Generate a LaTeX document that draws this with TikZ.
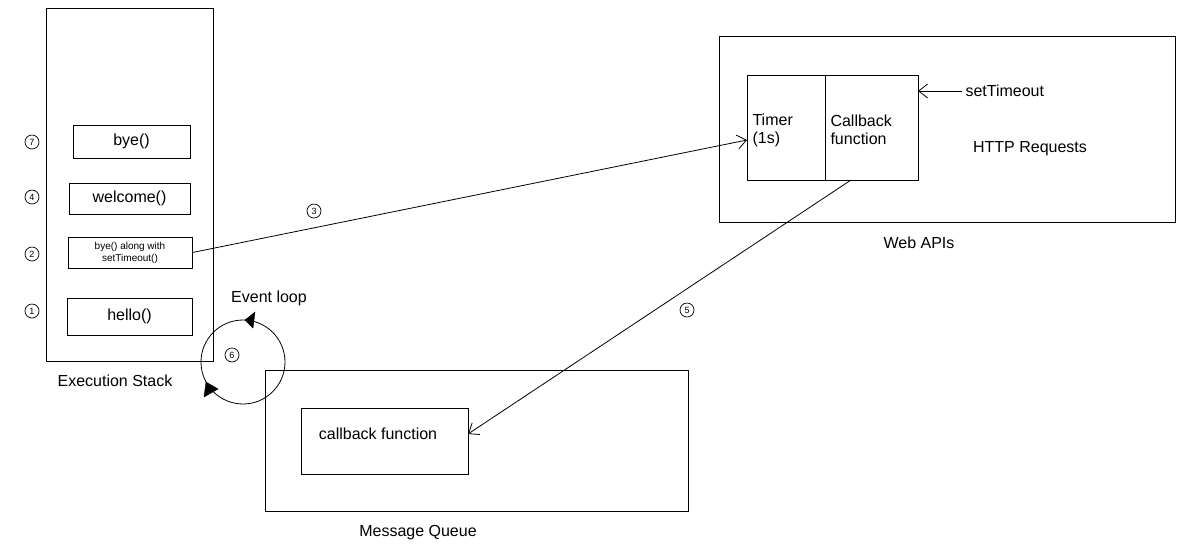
\documentclass[tikz,border=0pt]{standalone}
\usepackage{fontspec}
\setmainfont{Liberation Sans}
\usetikzlibrary{arrows.meta}
\begin{document}
\begin{tikzpicture}[x=1pt,y=-1pt,
  box/.style={draw,line width=0.9pt},
  num/.style={circle,draw,line width=0.7pt,inner sep=0pt,minimum size=14pt,font=\fontsize{9}{10}\selectfont},
  lbl/.style={font=\fontsize{16}{18}\selectfont},
  conn/.style={line width=0.8pt,-{Straight Barb[length=9pt,width=14pt]}}]
\useasboundingbox (0,0) rectangle (1200,558);
% execution stack
\draw[box] (46,8) rectangle (213,361);
\node[box,minimum width=117pt,minimum height=33pt,lbl] (bye) at (131.5,141.5) {bye()};
\node[box,minimum width=121pt,minimum height=31pt,lbl] (wel) at (129.5,198.5) {welcome()};
\node[box,minimum width=124pt,minimum height=31pt,align=center,font=\fontsize{10}{12}\selectfont,inner sep=0pt] (bs) at (130,252.5) {bye() along with\\setTimeout()};
\node[box,minimum width=125pt,minimum height=37pt,lbl] (hello) at (129.5,316.5) {hello()};
\node[num] (n7) at (32,142) {7};
\node[num] (n4) at (32,197) {4};
\node[num] (n2) at (32,254) {2};
\node[num] (n1) at (32,311) {1};
\node[lbl] (es) at (115,381) {Execution Stack};
% web apis
\draw[box] (719,36) rectangle (1175,222);
\draw[box] (747,75) rectangle (918,180);
\draw[box] (825,75) -- (825,180);
\coordinate (timerin) at (747,140);
\coordinate (cbout) at (851,180);
\coordinate (cbin) at (918,91);
\node[lbl,anchor=west,align=left] (timer) at (749,130) {Timer\\(1s)};
\node[lbl,anchor=west,align=left] (cbf) at (827,130) {Callback\\function};
\node[lbl,anchor=west] (st) at (962,91) {setTimeout};
\node[lbl] (http) at (1030,149) {HTTP Requests};
\node[lbl] (wa) at (919,243) {Web APIs};
% message queue
\draw[box] (265,370) rectangle (688,511);
\node[box,minimum width=167pt,minimum height=66pt,anchor=north west] (cq) at (301,408) {};
\node[lbl] (cqt) at (378,434) {callback function};
\coordinate (cqin) at (468,434);
\node[lbl] (mq) at (418,533) {Message Queue};
% connectors
\draw[conn] (st.west) -- (cbin);
\draw[conn] (bs.east) -- (timerin);
\node[num] (n3) at (314,211) {3};
\draw[conn] (cbout) -- (cqin);
\node[num] (n5) at (687,310) {5};
% event loop
\draw[line width=0.8pt] (243,362) circle (42);
\draw[fill=black] (245,320) -- (255,312) -- (253,328) -- cycle;
\draw[fill=black] (204,397) -- (206,382) -- (218,389) -- cycle;
\node[num] (n6) at (232,355) {6};
\node[lbl] (el) at (269,298) {Event loop};
\end{tikzpicture}
\end{document}
